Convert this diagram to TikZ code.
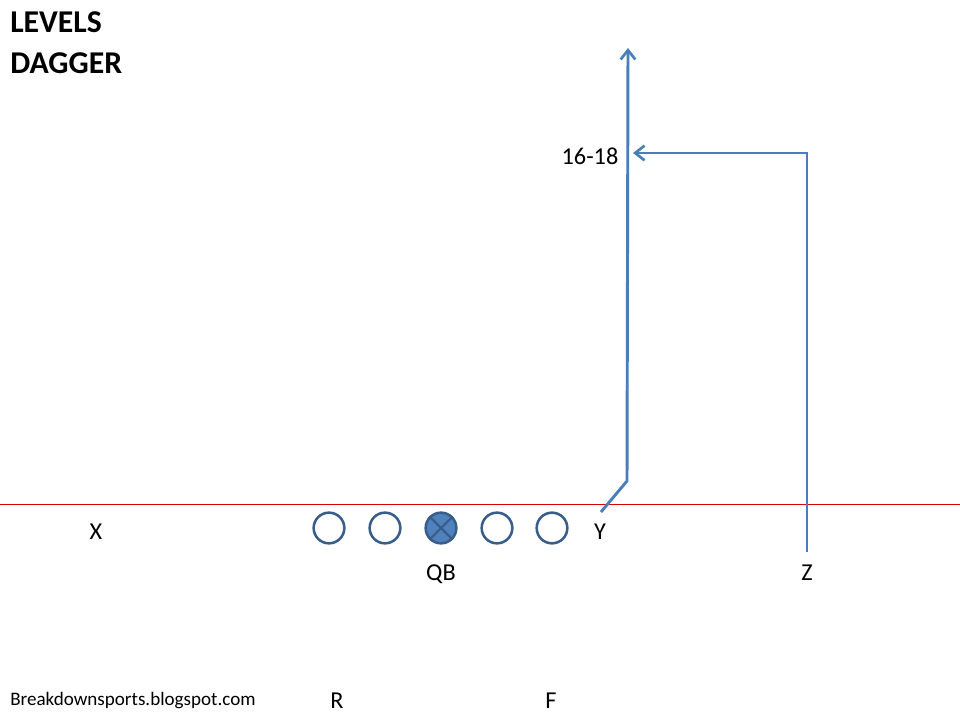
\documentclass[tikz,border=0pt]{standalone}
\usepackage{fontspec}
\setmainfont{Carlito}
\usetikzlibrary{arrows.meta}
\definecolor{route}{HTML}{4A7EBB}
\definecolor{olline}{HTML}{385D8A}
\definecolor{olfill}{HTML}{4F81BD}
\begin{document}
\begin{tikzpicture}[x=0.75pt,y=-0.75pt,
  lab/.style={inner sep=0pt,font=\fontsize{18.2}{21}\selectfont},
  small/.style={inner sep=0pt,font=\fontsize{14.3}{17}\selectfont},
  ttl/.style={inner sep=0pt,anchor=base west,font=\fontsize{23.8}{28}\bfseries\selectfont},
  lineman/.style={circle,draw=olline,line width=1.9pt,minimum size=23pt,inner sep=0pt},
  route/.style={draw=route,line width=2.2pt},
  tip/.style={-{Straight Barb[length=7pt,width=11pt,line width=2pt]}}]
\useasboundingbox (0,0) rectangle (960,720);
\fill[white] (0,0) rectangle (960,720);
% title
\node[ttl] (t1) at (10,33) {LEVELS};
\node[ttl] (t2) at (10,74) {DAGGER};
% line of scrimmage
\coordinate (losL) at (0,504);
\coordinate (losR) at (960,504);
\draw[red!85!black,line width=0.6pt] (losL) -- (losR);
% linemen
\node[lineman] (lt) at (329,528) {};
\node[lineman] (lg) at (385,528) {};
\node[lineman,fill=olfill] (c) at (441,528) {};
\node[lineman] (rg) at (497,528) {};
\node[lineman] (rt) at (552,528) {};
\draw[olline,line width=1.6pt] (c.45) -- (c.225) (c.135) -- (c.315);
% labels
\node[lab] (x) at (96,532) {X};
\node[lab] (y) at (600,532) {Y};
\node[lab] (qb) at (441,574) {QB};
\node[lab] (z) at (807,573) {Z};
\node[lab] (r) at (337,701) {R};
\node[lab] (f) at (551,701) {F};
\node[small,anchor=west] (web) at (10,701) {Breakdownsports.blogspot.com};
\node[lab] (depth) at (590,156) {16-18};
% Y route
\coordinate (y0) at (601,512);
\coordinate (y1) at (627,481);
\coordinate (y2) at (628,48);
\draw[route,tip] (y0) -- (y1) -- (y2);
% Z route
\coordinate (z0) at (807,552);
\coordinate (z1) at (807,153);
\coordinate (z2) at (633,153);
\draw[route,tip] (z0) -- (z1) -- (z2);
\end{tikzpicture}
\end{document}
